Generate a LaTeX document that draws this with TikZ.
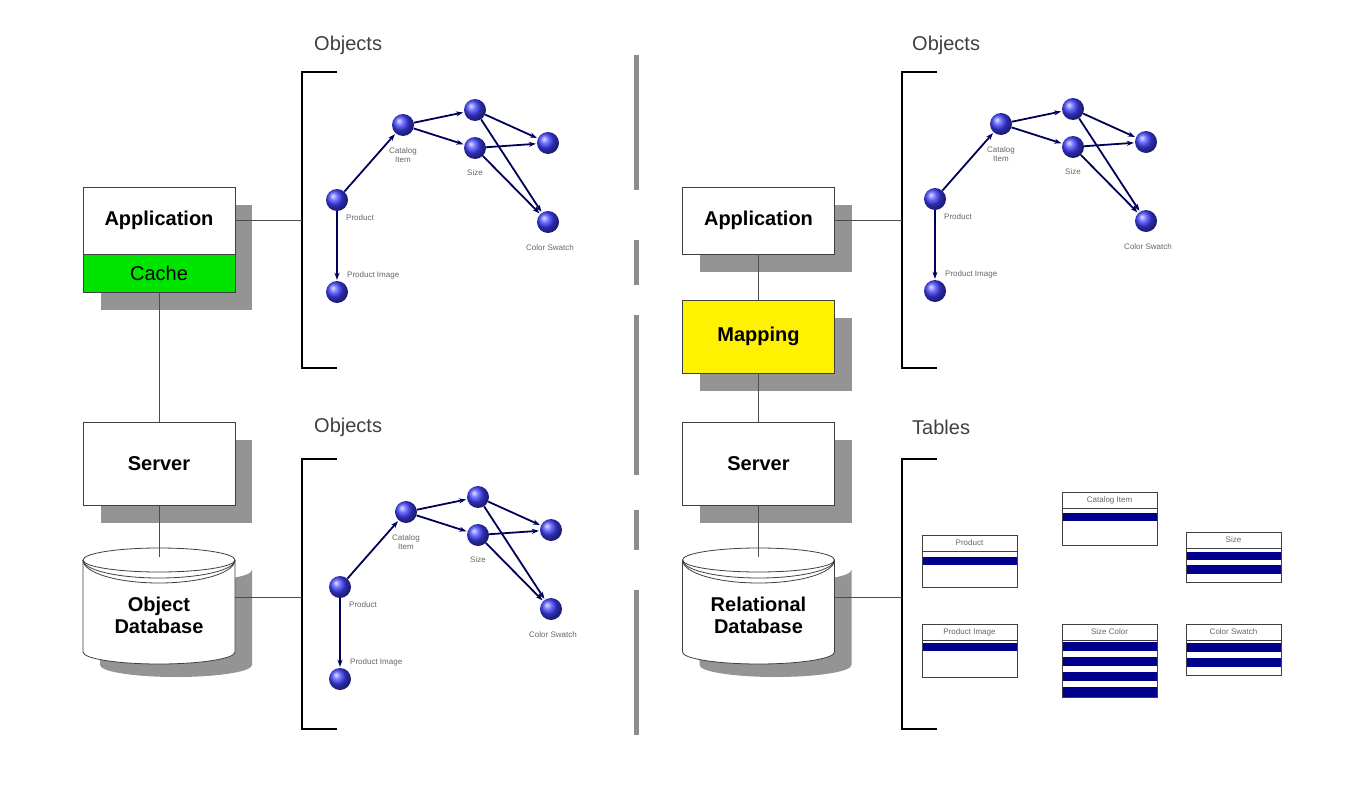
\documentclass[tikz,border=0pt]{standalone}
\usepackage{fontspec}
\setmainfont{Liberation Sans}
\usetikzlibrary{arrows.meta,shadings}
\begin{document}
\begin{tikzpicture}[x=1pt,y=-1pt,
  box/.style={draw=black!75,line width=0.8pt,fill=white,minimum width=152pt,inner sep=0pt,font=\bfseries\fontsize{20}{22}\selectfont},
  shadow/.style={fill=black!42,draw=none},
  link/.style={draw=black!70,line width=1pt},
  brk/.style={draw=black,line width=2pt},
  ball/.style={circle,minimum size=22pt,inner sep=0pt,shading=ball,ball color=blue!75!white},
  arr/.style={-{Stealth[length=7pt,width=5pt]},draw=blue!35!black,line width=1.8pt,shorten >=1pt},
  lbl/.style={font=\fontsize{8}{9}\selectfont,text=black!60,align=center,inner sep=0pt},
  head/.style={font=\fontsize{20}{22}\selectfont,text=black!75,anchor=west,inner sep=0pt},
  tab/.style={draw=black!75,line width=0.8pt},
  band/.style={fill=blue!55!black}]
\useasboundingbox[fill=white] (0,0) rectangle (1358,811);

\newcommand\objgraph[3]{%
\begin{scope}[shift={(#2,#3)}]
\node[ball] (#1p) at (337,200) {};
\node[ball] (#1c) at (403,125) {};
\node[ball] (#1t) at (475,110) {};
\node[ball] (#1s) at (475,148) {};
\node[ball] (#1r) at (548,143) {};
\node[ball] (#1w) at (548,222) {};
\node[ball] (#1i) at (337,292) {};
\node[lbl] at (403,155) {Catalog\\Item};
\node[lbl] at (475,173) {Size};
\node[lbl,anchor=west] at (346,218) {Product};
\node[lbl,anchor=west] at (347,275) {Product Image};
\node[lbl] at (550,248) {Color Swatch};
\draw[arr] (#1p) -- (#1c);
\draw[arr] (#1p) -- (#1i);
\draw[arr] (#1c) -- (#1t);
\draw[arr] (#1c) -- (#1s);
\draw[arr] (#1t) -- (#1r);
\draw[arr] (#1t) -- (#1w);
\draw[arr] (#1s) -- (#1r);
\draw[arr] (#1s) -- (#1w);
\end{scope}}

\newcommand\bracket[3]{% x, ytop, ybottom
\draw[brk] (#1+35,#2) -- (#1,#2) -- (#1,#3) -- (#1+35,#3);}

\newcommand\cyl[4]{% name, xcenter, text line1, text line2
\fill[black!42] (#2-59,570) -- (#2-59,665) arc[start angle=180,end angle=0,x radius=76,y radius=12] -- (#2+93,570) arc[start angle=0,end angle=180,x radius=76,y radius=12];
\draw[fill=white,draw=black!75,line width=0.8pt] (#2-76,560) -- (#2-76,652) arc[start angle=180,end angle=0,x radius=76,y radius=12] -- (#2+76,560);
\draw[fill=white,draw=black!75,line width=0.8pt] (#2,560) ellipse[x radius=76,y radius=12];
\draw[black!75,line width=0.8pt] (#2-76,560) arc[start angle=180,end angle=0,x radius=76,y radius=18];
\draw[black!75,line width=0.8pt] (#2-76,560) arc[start angle=180,end angle=0,x radius=76,y radius=23];
\node[font=\bfseries\fontsize{20}{22}\selectfont,align=center,inner sep=0pt] (#1) at (#2,615) {#3\\#4};
\coordinate (#1top) at (#2,557);
\coordinate (#1e) at (#2+76,597);}

% ---------- left side ----------
\fill[shadow] (101,205) rectangle (252,310);
\node[box,minimum height=67pt] (app1) at (159,220.5) {Application};
\node[box,minimum height=38pt,fill=green!90!black,font=\fontsize{20}{22}\selectfont] (cache) at (159,273) {Cache};
\fill[shadow] (101,440) rectangle (252,523);
\node[box,minimum height=83pt] (srv1) at (159,463.5) {Server};
\cyl{db1}{159}{Object}{Database}
\draw[link] (cache.south) -- (srv1.north);
\draw[link] (srv1.south) -- (db1top);

\node[head] at (314,45) {Objects};
\bracket{302}{72}{368}
\coordinate (b1) at (302,220.5);
\draw[link] (app1.east) -- (b1);
\objgraph{a}{0}{0}

\node[head] at (314,427) {Objects};
\bracket{302}{459}{729}
\coordinate (b2) at (302,597);
\draw[link] (db1e) -- (b2);
\objgraph{b}{3}{387}

% ---------- divider ----------
\foreach \a/\b in {55/190,240/285,315/475,510/550,590/735}
  \draw[black!45,line width=5pt] (636,\a) -- (636,\b);

% ---------- right side ----------
\fill[shadow] (700,205) rectangle (852,272);
\node[box,minimum height=67pt] (app2) at (758.5,220.5) {Application};
\fill[shadow] (700,318) rectangle (852,391);
\node[box,minimum height=73pt,fill=yellow] (map) at (758.5,336.5) {Mapping};
\fill[shadow] (700,440) rectangle (852,523);
\node[box,minimum height=83pt] (srv2) at (758.5,463.5) {Server};
\cyl{db2}{758.5}{Relational}{Database}
\draw[link] (app2.south) -- (map.north);
\draw[link] (map.south) -- (srv2.north);
\draw[link] (srv2.south) -- (db2top);

\node[head] at (912,45) {Objects};
\bracket{902}{72}{368}
\coordinate (b3) at (902,220.5);
\draw[link] (app2.east) -- (b3);
\objgraph{c}{598}{-1}

\node[head] at (912,427) {Tables};
\bracket{902}{459}{729}
\coordinate (b4) at (902,597);
\draw[link] (db2e) -- (b4);

% tables
\newcommand\tbl[5]{% x, ytop, ybottom, title, bands
\fill[white] (#1,#2) rectangle (#1+95,#3);
\foreach \u/\v in {#5} \fill[band] (#1,\u) rectangle (#1+95,\v);
\draw[tab] (#1,#2) rectangle (#1+95,#3);
\draw[tab] (#1,#2+16) -- (#1+95,#2+16);
\node[lbl,font=\fontsize{8}{9}\selectfont] at (#1+47.5,#2+8) {#4};}
\tbl{922}{535}{587}{Product}{557/565}
\tbl{1062}{492}{545}{Catalog Item}{513/521}
\tbl{1186}{532}{582}{Size}{552/560,565/574}
\tbl{922}{624}{677}{Product Image}{643/651}
\tbl{1062}{624}{697}{Size Color}{642/651,657/666,672/681,687/697}
\tbl{1186}{624}{675}{Color Swatch}{643/652,658/667}
\end{tikzpicture}
\end{document}
